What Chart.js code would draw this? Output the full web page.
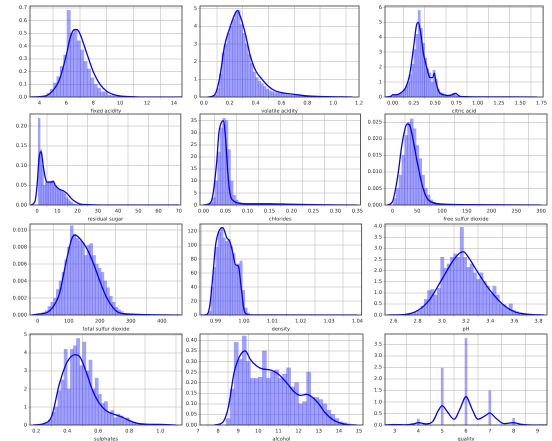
<!DOCTYPE html>
<html><head><meta charset="utf-8">
<script src="https://cdn.jsdelivr.net/npm/chart.js@4/dist/chart.umd.min.js"></script>
<style>body{margin:0;background:#fff;width:552px;height:441px;position:relative;overflow:hidden}canvas{position:absolute}</style>
</head><body>
<script>
// histogram: start, bin width, heights ; kde: [x,y] pairs
const faHist=[3.8,0.25,[0.002,0.005,0.01,0.03,0.06,0.11,0.16,0.24,0.33,0.68,0.5,0.53,0.44,0.37,0.28,0.22,0.15,0.1,0.07,0.04,0.04,0.015,0.01,0.005,0.003,0.002,0.002,0.001,0.001]];
const faKde=[[3.3,0],[4,0.003],[4.5,0.01],[5,0.05],[5.5,0.14],[6,0.33],[6.3,0.47],[6.6,0.53],[6.8,0.53],[7,0.5],[7.5,0.35],[8,0.2],[8.5,0.1],[9,0.045],[9.5,0.02],[10,0.008],[11,0.002],[12,0],[14.6,0]];
const vaHist=[0.08,0.02,[0.1,0.5,1.3,2.5,3.0,3.6,4.0,4.4,4.8,4.9,4.1,3.6,3.0,2.4,1.9,1.4,1.1,0.9,0.75,0.6,0.45,0.35,0.3,0.25,0.22,0.2,0.18,0.15,0.12,0.1,0.09,0.08,0.06,0.05,0.04,0.03,0.03,0.02,0.02,0.01,0.01,0.01,0.01,0.01,0,0.01,0,0,0,0.01]];
const vaKde=[[0.03,0],[0.08,0.1],[0.12,1.0],[0.16,2.9],[0.2,3.9],[0.24,4.7],[0.26,4.9],[0.28,4.6],[0.32,3.6],[0.36,2.3],[0.4,1.5],[0.45,1.0],[0.5,0.6],[0.55,0.35],[0.6,0.25],[0.7,0.15],[0.8,0.06],[0.9,0.03],[1.0,0.01],[1.15,0]];
const caHist=[0,0.025,[0.15,0.15,0.2,0.25,0.3,0.5,0.7,1.0,1.5,2.2,3.2,4.2,5.8,4.6,3.6,2.6,1.9,1.6,1.0,1.8,1.2,0.5,0.3,0.25,0.15,0.1,0.1,0.1,0.25,0.2,0.05,0.03,0.02,0.01,0,0,0,0,0,0,0.01]];
const caKde=[[-0.09,0],[-0.02,0.05],[0,0.15],[0.05,0.15],[0.1,0.3],[0.15,0.6],[0.2,1.5],[0.25,3.5],[0.28,4.8],[0.3,5.0],[0.33,4.3],[0.36,3.0],[0.4,2.0],[0.44,1.3],[0.47,1.3],[0.49,1.6],[0.51,1.0],[0.55,0.3],[0.6,0.15],[0.65,0.1],[0.7,0.15],[0.74,0.25],[0.78,0.08],[0.85,0.02],[1.0,0.01],[1.7,0]];
const rsHist=[0.6,0.85,[0.22,0.14,0.10,0.05,0.06,0.055,0.06,0.06,0.062,0.05,0.045,0.04,0.038,0.035,0.032,0.028,0.02,0.015,0.01,0.006,0.003,0.002,0.001,0.0005]];
const rsKde=[[-3,0],[-1,0.01],[0,0.05],[1,0.12],[2,0.135],[3,0.1],[4,0.07],[5,0.058],[7,0.058],[8,0.06],[9,0.05],[11,0.04],[13,0.036],[15,0.028],[17,0.016],[19,0.008],[21,0.003],[25,0.001],[35,0],[70,0]];
const chHist=[0.009,0.0058,[0.5,1,3,10,22,32,36,35,23,10,4,2,1,0.8,0.6,0.5,0.5,0.4,0.4,0.5,0.4,0.4,0.3,0.3,0.3,0.3,0.2,0.2,0.2,0.1,0.1,0.1,0.05,0.05,0.05,0.05,0.05,0.05]];
const chKde=[[0,0],[0.01,0.3],[0.02,3],[0.03,18],[0.035,30],[0.04,34],[0.045,35],[0.05,28],[0.055,14],[0.06,5],[0.07,1.5],[0.08,0.8],[0.1,0.5],[0.15,0.5],[0.2,0.3],[0.25,0.15],[0.3,0.05],[0.35,0]];
const fsHist=[2,5.7,[0.002,0.005,0.009,0.015,0.021,0.025,0.026,0.023,0.018,0.014,0.009,0.005,0.003,0.0015,0.0008,0.0004,0.0003,0.0002,0.0001,0.0001]];
const fsKde=[[-10,0],[0,0.001],[10,0.008],[20,0.019],[30,0.0245],[35,0.024],[40,0.021],[50,0.013],[60,0.006],[70,0.002],[80,0.0008],[100,0.0003],[150,0.0001],[300,0]];
const tsHist=[15,9,[0.0003,0.0005,0.001,0.0015,0.002,0.003,0.004,0.005,0.0065,0.008,0.0105,0.0095,0.009,0.0087,0.0085,0.007,0.0082,0.0084,0.007,0.006,0.0055,0.005,0.004,0.0032,0.0022,0.0015,0.0009,0.0006,0.0004,0.0002,0.0001,0.0001]];
const tsKde=[[-20,0],[0,0.0001],[30,0.0003],[50,0.001],[70,0.0025],[90,0.006],[110,0.009],[120,0.0094],[140,0.0088],[160,0.0077],[180,0.006],[200,0.004],[220,0.0022],[240,0.001],[260,0.0003],[300,0.0001],[460,0]];
const deHist=[0.9875,0.00085,[5,40,68,97,118,125,110,105,108,98,88,70,73,77,35,10,3,1,0.5]];
const deKde=[[0.985,0],[0.987,1],[0.988,15],[0.989,55],[0.99,100],[0.991,118],[0.9925,125],[0.994,110],[0.995,105],[0.996,90],[0.997,72],[0.998,70],[0.999,40],[1.0,8],[1.001,1],[1.002,0.2],[1.04,0]];
const phHist=[2.72,0.027,[0.02,0.05,0.1,0.2,0.4,0.7,1.1,1.15,0.9,1.2,2.6,2.1,2.3,2.6,2.75,2.6,3.95,2.6,2.15,2.3,1.9,1.6,1.9,1.5,1.3,0.95,1.3,0.9,0.5,0.45,0.3,0.5,0.2,0.15,0.1,0.05,0.05,0.03,0.02]];
const phKde=[[2.55,0],[2.7,0.03],[2.8,0.2],[2.9,0.7],[3.0,1.6],[3.1,2.5],[3.15,2.8],[3.18,2.85],[3.22,2.6],[3.3,1.9],[3.4,1.1],[3.5,0.5],[3.6,0.15],[3.7,0.04],[3.85,0]];
const suHist=[0.22,0.02,[0.02,0.05,0.1,0.3,0.7,1.0,1.9,2.5,4.2,2.0,4.2,4.4,4.8,3.3,4.6,3.0,3.6,2.0,2.6,1.7,1.2,1.3,0.7,0.8,0.4,0.6,0.5,0.3,0.4,0.2,0.15,0.1,0.05,0.05,0.03,0.03,0.05,0.03,0.02,0.01]];
const suKde=[[0.18,0],[0.25,0.08],[0.3,0.5],[0.35,2.3],[0.4,3.5],[0.45,3.9],[0.48,3.8],[0.52,3.0],[0.56,2.0],[0.6,1.3],[0.65,0.8],[0.7,0.6],[0.75,0.45],[0.8,0.25],[0.85,0.1],[0.9,0.05],[1.0,0.03],[1.1,0]];
const alHist=[8.4,0.2,[0.03,0.17,0.39,0.31,0.42,0.30,0.22,0.22,0.225,0.35,0.22,0.25,0.26,0.22,0.24,0.27,0.18,0.20,0.10,0.11,0.25,0.13,0.13,0.12,0.10,0.07,0.05,0.03,0.015,0.01,0.005,0.003]];
const alKde=[[7.8,0],[8.2,0.01],[8.5,0.08],[8.8,0.25],[9.1,0.33],[9.35,0.35],[9.6,0.31],[9.9,0.28],[10.2,0.265],[10.6,0.26],[11,0.24],[11.4,0.2],[11.8,0.155],[12.1,0.14],[12.4,0.145],[12.7,0.13],[13,0.1],[13.3,0.06],[13.7,0.025],[14.1,0.008],[14.5,0.001],[14.9,0]];
const quHist=[2.5,1,[0.02,0.27,2.48,3.77,1.5,0.3,0.01]];
const quKde=[[2.6,0],[3,0.02],[3.5,0.01],[3.8,0.05],[4,0.1],[4.3,0.05],[4.6,0.15],[4.85,0.65],[5,0.84],[5.2,0.6],[5.5,0.25],[5.75,0.7],[6,1.23],[6.25,0.7],[6.5,0.25],[6.8,0.4],[7,0.52],[7.25,0.3],[7.6,0.06],[8,0.1],[8.3,0.03],[8.8,0],[9.4,0]];
const titles=['fixed acidity','volatile acidity','citric acid','residual sugar','chlorides','free sulfur dioxide','total sulfur dioxide','density','pH','sulphates','alcohol','quality'];
const xTicks=[[4,6,8,10,12,14],[0,0.2,0.4,0.6,0.8,1.0,1.2],[0,0.25,0.5,0.75,1,1.25,1.5,1.75],[0,10,20,30,40,50,60,70],[0,0.05,0.1,0.15,0.2,0.25,0.3,0.35],[0,50,100,150,200,250,300],[0,100,200,300,400],[0.99,1.0,1.01,1.02,1.03,1.04],[2.6,2.8,3.0,3.2,3.4,3.6,3.8],[0.2,0.4,0.6,0.8,1.0],[7,8,9,10,11,12,13,14,15],[3,4,5,6,7,8,9]];
const yTicks=[[0,0.1,0.2,0.3,0.4,0.5,0.6,0.7],[0,1,2,3,4,5],[0,1,2,3,4,5,6],[0,0.05,0.1,0.15,0.2],[0,5,10,15,20,25,30,35],[0,0.005,0.01,0.015,0.02,0.025],[0,0.002,0.004,0.006,0.008,0.01],[0,20,40,60,80,100,120],[0,0.5,1,1.5,2,2.5,3,3.5,4],[0,1,2,3,4,5],[0,0.05,0.1,0.15,0.2,0.25,0.3,0.35,0.4],[0,0.5,1,1.5,2,2.5,3,3.5]];
const xDec=[0,1,2,0,2,0,0,2,1,1,0,0], yDec=[1,0,0,2,0,3,3,0,1,0,2,1];
const xRange=[[3.3,14.6],[-0.03,1.2],[-0.09,1.77],[-3.5,71],[-0.008,0.357],[-15,312],[-25,465],[0.9845,1.0415],[2.53,3.87],[0.16,1.14],[7.1,15.2],[2.6,9.4]];
const yMax=[0.715,5.15,6.1,0.231,37.8,0.0275,0.0107,130,4.1,5.05,0.43,3.95];
const hists=[faHist,vaHist,caHist,rsHist,chHist,fsHist,tsHist,deHist,phHist,suHist,alHist,quHist];
const kdes=[faKde,vaKde,caKde,rsKde,chKde,fsKde,tsKde,deKde,phKde,suKde,alKde,quKde];
const colL=[30,200,385], colW=[151,162,161], rowT=[5,113,223,333], rowH=92;
const frame={id:'frame',afterDraw(c){const a=c.chartArea,x=c.ctx;x.save();x.strokeStyle='#333';x.lineWidth=0.8;x.strokeRect(a.left,a.top,a.right-a.left,a.bottom-a.top);x.restore();}};
Chart.defaults.font.family='DejaVu Sans';Chart.defaults.font.size=5;Chart.defaults.color='#222';
for(let i=0;i<12;i++){
  const r=Math.floor(i/3),c=i%3,L=colL[c]-26,T=rowT[r]-3,W=colW[c]+28,H=rowH+20;
  const cv=document.createElement('canvas');cv.style.left=L+'px';cv.style.top=T+'px';cv.style.width=W+'px';cv.style.height=H+'px';document.body.appendChild(cv);
  const h=hists[i];const bars=h[2].map((v,k)=>({x:h[0]+(k+0.5)*h[1],y:v}));
  new Chart(cv,{data:{datasets:[
    {type:'line',data:kdes[i].map(p=>({x:p[0],y:p[1]})),borderColor:'#0000ff',borderWidth:1.3,pointRadius:0,tension:0.4,cubicInterpolationMode:'monotone'},
    {type:'bar',data:bars,backgroundColor:'rgba(60,60,250,0.48)',barPercentage:i==11?0.11:1,categoryPercentage:1,grouped:false}
  ]},options:{animation:false,responsive:false,devicePixelRatio:2,layout:{padding:{top:3,right:1}},plugins:{legend:{display:false},tooltip:{enabled:false}},
  scales:{x:{type:'linear',min:xRange[i][0],max:xRange[i][1],offset:false,afterBuildTicks:s=>{s.ticks=xTicks[i].map(v=>({value:v}))},afterFit:s=>{s.height=17},
     ticks:{maxRotation:0,padding:1,callback:v=>v.toFixed(xDec[i])},grid:{color:'#c8c8c8',lineWidth:0.7,tickLength:2},border:{display:false},title:{display:true,text:titles[i],padding:{top:0,bottom:0},font:{size:5}}},
   y:{min:0,max:yMax[i],afterBuildTicks:s=>{s.ticks=yTicks[i].map(v=>({value:v}))},afterFit:s=>{s.width=26},
     ticks:{padding:1,callback:v=>v.toFixed(yDec[i])},grid:{color:'#c8c8c8',lineWidth:0.7,tickLength:2},border:{display:false}}}},plugins:[frame]});
  cv.style.width=W+'px';cv.style.height=H+'px';
}
</script>
</body></html>
